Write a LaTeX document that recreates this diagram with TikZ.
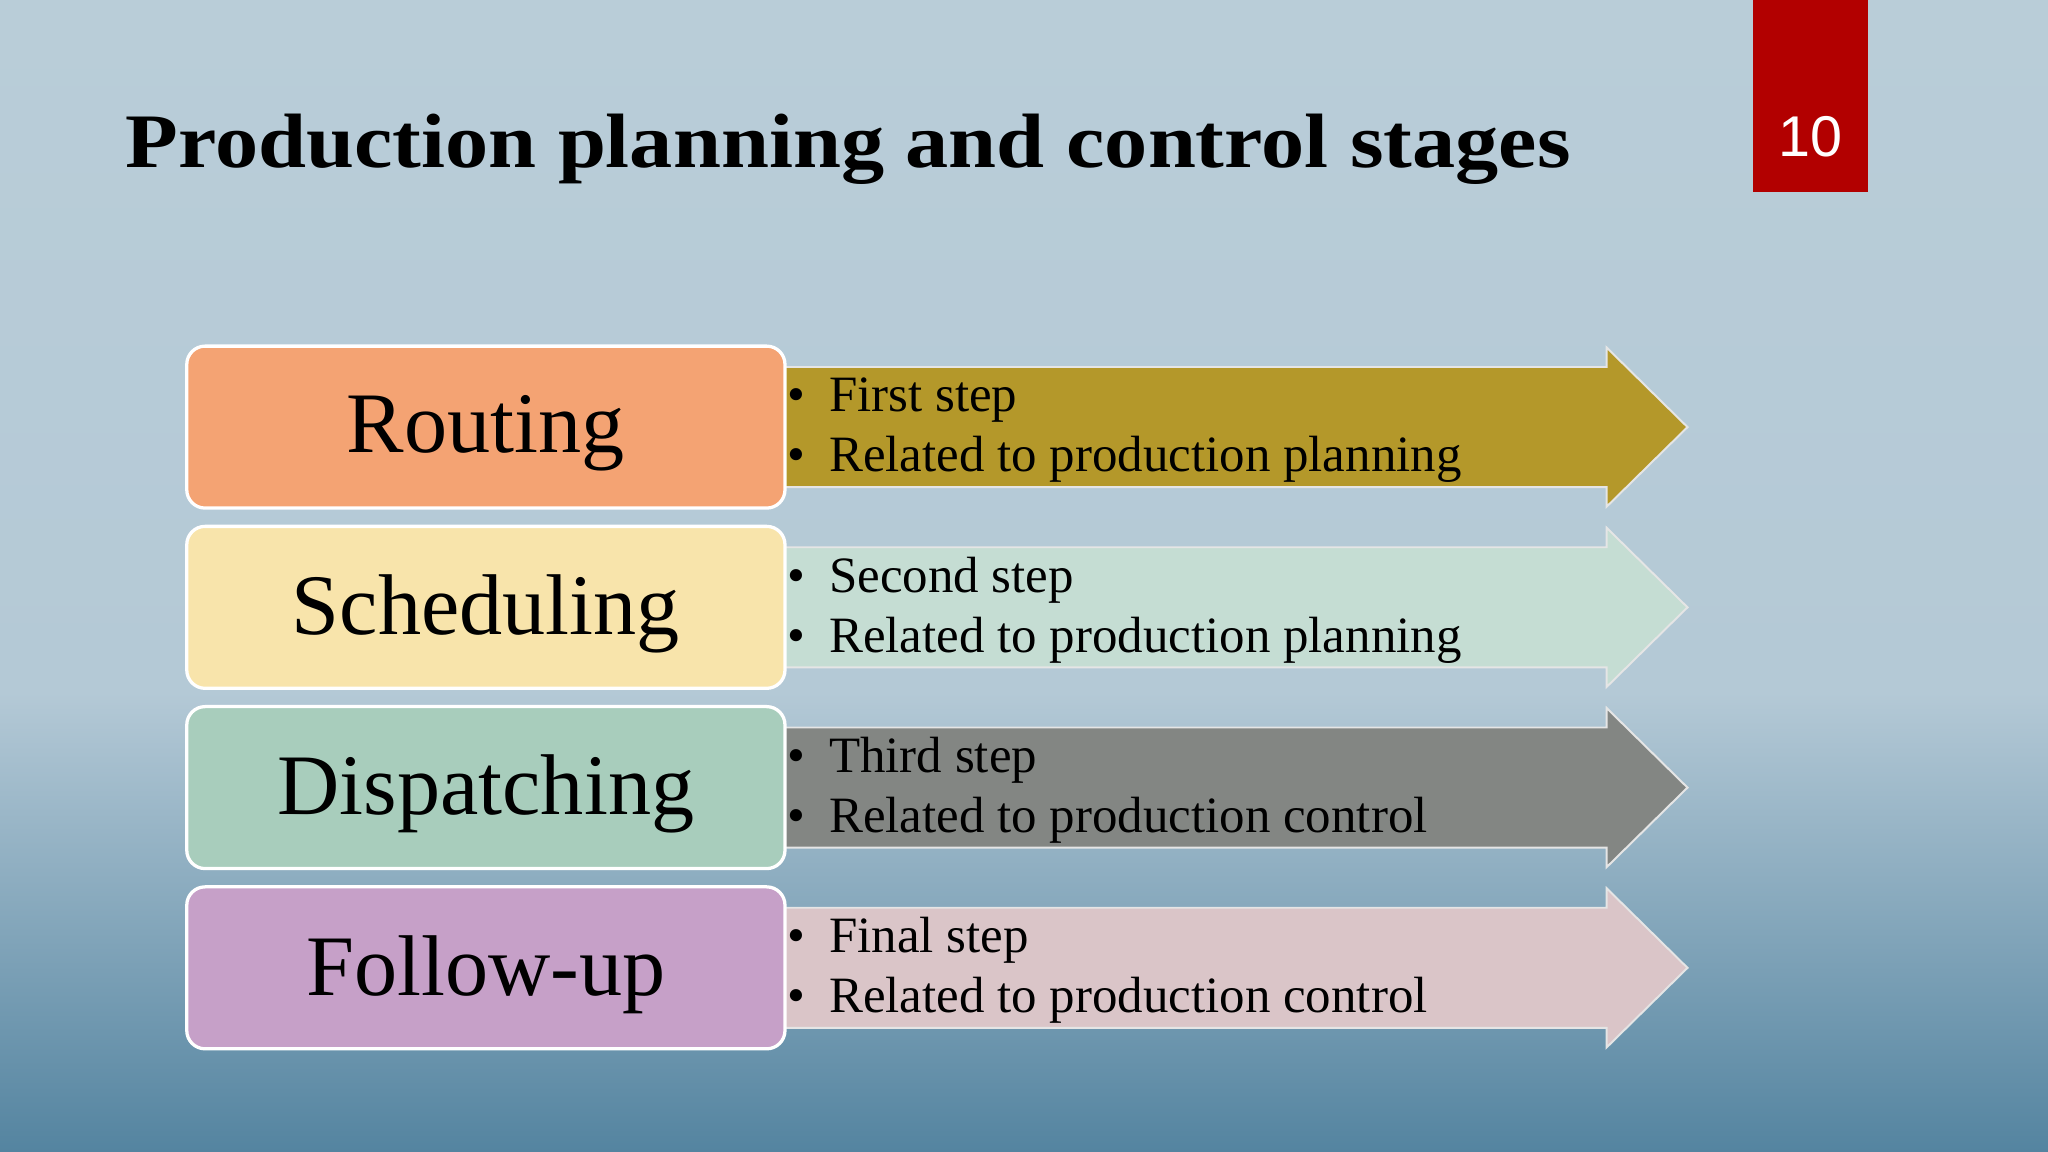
\documentclass[tikz,border=0pt]{standalone}
\usepackage{fontspec}
\setmainfont{Liberation Serif}
\newfontfamily\sansf{Liberation Sans}
\definecolor{bgtop}{HTML}{B9CDD8}
\definecolor{bgmid}{HTML}{B4C9D6}
\definecolor{bgbot}{HTML}{5484A0}
\tikzset{
 lbox/.style={draw=white,line width=2.5pt,rounded corners=14pt,minimum width=458pt,minimum height=124pt,inner sep=0pt},
 ltxt/.style={inner sep=0pt,font=\fontsize{66}{70}\selectfont},
 arr/.style={draw=white!80!gray,line width=1.5pt},
 btxt/.style={anchor=west,font=\fontsize{39}{48}\selectfont,align=left,inner sep=0pt}
}
\begin{document}
\begin{tikzpicture}[x=1pt,y=-1pt]
\useasboundingbox (0,0) rectangle (1568,882);
\shade[top color=bgtop,bottom color=bgmid] (0,0) rectangle (1568,530);
\shade[top color=bgmid,bottom color=bgbot] (0,530) rectangle (1568,882);
\node[anchor=base west,inner sep=0pt,xscale=1.12,font=\bfseries\fontsize{59}{64}\selectfont] (title) at (96,128) {Production planning and control stages};
\fill[red!70!black] (1342,0) rectangle (1430,147);
\node[font=\sansf\fontsize{44}{50}\selectfont,text=white] (num) at (1386,105) {10};
\foreach \i/\y/\lc/\ac/\lab/\a/\b in {
 1/327/F4A373/B4982A/Routing/First step/Related to production planning,
 2/465/F8E4AB/C5DDD3/Scheduling/Second step/Related to production planning,
 3/603/A8CDBC/838683/Dispatching/Third step/Related to production control,
 4/741/C6A0C8/DAC5C8/Follow-up/Final step/Related to production control}{
 \definecolor{ac}{HTML}{\ac}\definecolor{lc}{HTML}{\lc}
 \draw[arr,fill=ac] (595,\y-46) -- (1230,\y-46) -- (1230,\y-61) -- (1292,\y) -- (1230,\y+61) -- (1230,\y+46) -- (595,\y+46) -- cycle;
 \node[lbox,fill=lc] (box\i) at (372,\y) {};
 \node[ltxt] (l\i) at (372,\y+5) {\lab};
 \node[btxt] (t\i) at (603,\y+2) {\textbullet\hspace{18pt}\a\\[-2pt]\textbullet\hspace{18pt}\b};
}
\end{tikzpicture}
\end{document}
